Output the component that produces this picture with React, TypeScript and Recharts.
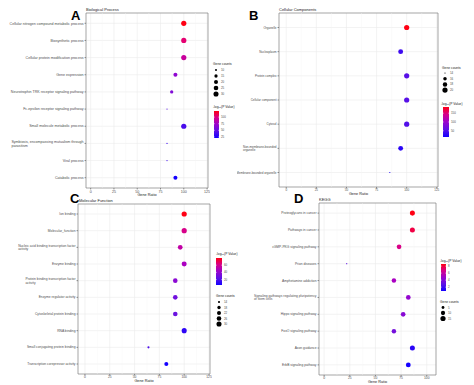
import React from 'react'
import {
  ScatterChart,
  Scatter,
  XAxis,
  YAxis,
  CartesianGrid,
  ReferenceLine,
  ReferenceArea,
} from 'recharts'

const FONT = '"Liberation Sans", Arial, sans-serif'
const TXT = '#4d4d4d'

// A - Biological Process
const bpTerms = [
  'Cellular nitrogen compound metabolic process',
  'Biosynthetic process',
  'Cellular protein modification process',
  'Gene expression',
  'Neurotrophin TRK receptor signaling pathway',
  'Fc-epsilon receptor signaling pathway',
  'Small molecule metabolic process',
  'Symbiosis, encompassing mutualism through\nparasitism',
  'Viral process',
  'Catabolic process',
]
const bpRatio = [100, 100, 100, 91, 87, 82, 100, 82, 82, 91]
const bpCounts = [31, 31, 31, 20, 15, 9, 31, 9, 9, 20]
const bpLogP = [123, 105, 92, 68, 62, 45, 40, 35, 35, 21]
const bpCountBreaks = [10, 15, 20, 25, 30]
const bpPBreaks = [100, 75, 50, 25]

// B - Cellular Components
const ccTerms = [
  'Organelle',
  'Nucleoplasm',
  'Protein complex',
  'Cellular component',
  'Cytosol',
  'Non-membrane-bounded\norganelle',
  'Membrane-bounded organelle',
]
const ccRatio = [100, 95, 100, 100, 100, 95, 86]
const ccCounts = [20, 19, 20, 20, 20, 19, 14]
const ccLogP = [185, 40, 55, 55, 52, 28, 20]
const ccCountBreaks = [14, 16, 18, 20]
const ccPBreaks = [150, 100, 50]

// C - Molecular Function
const mfTerms = [
  'Ion binding',
  'Molecular_function',
  'Nucleic acid binding transcription factor\nactivity',
  'Enzyme binding',
  'Protein binding transcription factor\nactivity',
  'Enzyme regulator activity',
  'Cytoskeletal protein binding',
  'RNA binding',
  'Small conjugating protein binding',
  'Transcription corepressor activity',
]
const mfRatio = [100, 100, 96, 100, 91, 91, 91, 100, 64, 82]
const mfCounts = [31, 31, 27, 29, 26, 26, 26, 30, 14, 22]
const mfLogP = [80, 62, 55, 48, 38, 30, 28, 12, 20, 5]
const mfCountBreaks = [14, 18, 22, 26, 30]
const mfPBreaks = [60, 40, 20]

// D - KEGG
const keggTerms = [
  'Proteoglycans in cancer',
  'Pathways in cancer',
  'cGMP-PKG signaling pathway',
  'Prion diseases',
  'Amphetamine addiction',
  'Signaling pathways regulating pluripotency\nof stem cells',
  'Hippo signaling pathway',
  'FoxO signaling pathway',
  'Axon guidance',
  'ErbB signaling pathway',
]
const keggRatio = [86, 86, 73, 22, 68, 82, 77, 68, 86, 82]
const keggCounts = [14, 14, 12, 3, 11, 12, 12, 11, 14, 13]
const keggLogP = [8.6, 7.9, 6.8, 3, 5.3, 4.6, 4.2, 3.6, 1.5, 0.9]
const keggCountBreaks = [5, 10, 15]
const keggPBreaks = [8, 6, 4, 2]

const STOPS: [number, number[]][] = [
  [0, [20, 0, 255]],
  [0.3, [105, 20, 225]],
  [0.55, [165, 0, 200]],
  [0.8, [225, 0, 125]],
  [1, [255, 0, 20]],
]

function colorAt(t: number) {
  const v = Math.max(0, Math.min(1, t))
  for (let i = 1; i < STOPS.length; i++) {
    const [t1, c1] = STOPS[i]
    const [t0, c0] = STOPS[i - 1]
    if (v <= t1) {
      const f = (v - t0) / (t1 - t0)
      const c = c0.map((a, k) => Math.round(a + (c1[k] - a) * f))
      return `rgb(${c[0]},${c[1]},${c[2]})`
    }
  }
  return 'rgb(255,0,20)'
}

const radius = (c: number, dom: [number, number]) => {
  const t = Math.max(0, Math.min(1, (c - dom[0]) / (dom[1] - dom[0])))
  return 0.6 + 2.0 * Math.sqrt(t)
}

let ctx: CanvasRenderingContext2D | null = null
function textWidth(s: string, fs: number) {
  if (!ctx) ctx = document.createElement('canvas').getContext('2d')
  if (!ctx) return s.length * fs * 0.5
  ctx.font = `${fs}px "Liberation Sans"`
  return ctx.measureText(s).width
}

type Box = { l: number; r: number; t: number; b: number }

type PanelProps = {
  originX: number
  plot: Box
  terms: string[]
  ratio: number[]
  counts: number[]
  logp: number[]
  xDomain: [number, number]
  xTicks: number[]
  pDomain: [number, number]
  cDomain: [number, number]
  fs: number
}

function Panel(p: PanelProps) {
  const n = p.terms.length
  const yW = p.plot.l - p.originX
  const top = p.plot.t - 2
  const xH = 7
  const width = p.plot.r + 2 - p.originX
  const height = p.plot.b - top + xH
  const data = p.terms.map((t, i) => ({
    x: p.ratio[i],
    y: i + 1,
    count: p.counts[i],
    logp: p.logp[i],
  }))
  const yTicks = p.terms.map((_, i) => i + 1)
  const minor = p.xTicks.slice(0, -1).map((v, i) => (v + p.xTicks[i + 1]) / 2)
  const yDom: [number, number] = [0.4, n + 0.6]

  const renderTick = (props: any) => {
    const { x, y, payload } = props
    const label = p.terms[payload.value - 1] ?? ''
    const lines = label.split('\n')
    if (lines.length === 1) {
      return (
        <text x={x} y={y} dy="0.35em" textAnchor="end" fontSize={p.fs} fill={TXT}>
          {label}
        </text>
      )
    }
    const w = textWidth(lines[0], p.fs)
    const lh = p.fs * 1.15
    return (
      <text fontSize={p.fs} fill={TXT}>
        {lines.map((ln, k) => (
          <tspan key={k} x={x - w} y={y + (k - (lines.length - 1) / 2) * lh} dy="0.35em" textAnchor="start">
            {ln}
          </tspan>
        ))}
      </text>
    )
  }

  const renderDot = (props: any) => {
    const { cx, cy, payload } = props
    if (cx == null || cy == null) return <g />
    const t = (payload.logp - p.pDomain[0]) / (p.pDomain[1] - p.pDomain[0])
    return <circle cx={cx} cy={cy} r={radius(payload.count, p.cDomain)} fill={colorAt(t)} />
  }

  return (
    <div style={{ position: 'absolute', left: p.originX, top }}>
      <ScatterChart width={width} height={height} margin={{ top: 2, right: 2, bottom: 0, left: 0 }}>
        <CartesianGrid stroke="#ebebeb" strokeWidth={0.6} />
        {minor.map((m) => (
          <ReferenceLine key={m} x={m} stroke="#f4f4f4" strokeWidth={0.4} />
        ))}
        <XAxis
          type="number"
          dataKey="x"
          domain={p.xDomain}
          ticks={p.xTicks}
          interval={0}
          allowDataOverflow
          height={xH}
          tickSize={1.5}
          tickMargin={0.5}
          axisLine={false}
          tickLine={{ stroke: '#333', strokeWidth: 0.5 }}
          tick={{ fontSize: p.fs, fill: TXT }}
        />
        <YAxis
          type="number"
          dataKey="y"
          domain={yDom}
          ticks={yTicks}
          interval={0}
          reversed
          allowDataOverflow
          width={yW}
          tickSize={1.5}
          tickMargin={1}
          axisLine={false}
          tickLine={{ stroke: '#333', strokeWidth: 0.5 }}
          tick={renderTick}
        />
        <ReferenceArea
          x1={p.xDomain[0]}
          x2={p.xDomain[1]}
          y1={yDom[0]}
          y2={yDom[1]}
          fill="none"
          fillOpacity={0}
          stroke="#777"
          strokeWidth={0.6}
          ifOverflow="visible"
        />
        <Scatter data={data} isAnimationActive={false} shape={renderDot} />
      </ScatterChart>
    </div>
  )
}

type LegendProps = {
  id: string
  sizeTitle: [number, number]
  dotX: number
  dotY0: number
  dotStep: number
  labelX: number
  countBreaks: number[]
  cDomain: [number, number]
  colorTitle: [number, number]
  bar: { x: number; y: number; w: number; h: number }
  barLabelX: number
  pBreaks: number[]
  pDomain: [number, number]
}

function Legends(l: LegendProps) {
  const fs = 3.3
  const stops = [0, 0.25, 0.5, 0.75, 1]
  return (
    <g>
      <text x={l.sizeTitle[0]} y={l.sizeTitle[1]} fontSize={fs} fill="#222">
        Gene counts
      </text>
      {l.countBreaks.map((c, k) => (
        <g key={c}>
          <circle cx={l.dotX} cy={l.dotY0 + k * l.dotStep} r={radius(c, l.cDomain)} fill="#000" />
          <text x={l.labelX} y={l.dotY0 + k * l.dotStep} dy="0.35em" fontSize={fs - 0.4} fill={TXT}>
            {c}
          </text>
        </g>
      ))}
      <defs>
        <linearGradient id={l.id} x1="0" y1="1" x2="0" y2="0">
          {stops.map((s) => (
            <stop key={s} offset={s} stopColor={colorAt(s)} />
          ))}
        </linearGradient>
      </defs>
      <text x={l.colorTitle[0]} y={l.colorTitle[1]} fontSize={fs} fill="#222">
        -log
        <tspan fontSize={fs * 0.7} dy={fs * 0.3}>10</tspan>
        <tspan dy={-fs * 0.3}>(P Value)</tspan>
      </text>
      <rect x={l.bar.x} y={l.bar.y} width={l.bar.w} height={l.bar.h} fill={`url(#${l.id})`} />
      {l.pBreaks.map((v) => {
        const yy = l.bar.y + l.bar.h * (1 - (v - l.pDomain[0]) / (l.pDomain[1] - l.pDomain[0]))
        return (
          <g key={v}>
            <line x1={l.bar.x} x2={l.bar.x + 1} y1={yy} y2={yy} stroke="#fff" strokeWidth={0.4} />
            <line x1={l.bar.x + l.bar.w - 1} x2={l.bar.x + l.bar.w} y1={yy} y2={yy} stroke="#fff" strokeWidth={0.4} />
            <text x={l.barLabelX} y={yy} dy="0.35em" fontSize={fs - 0.4} fill={TXT}>
              {v}
            </text>
          </g>
        )
      })}
    </g>
  )
}

const bpPlot = { l: 86, r: 208, t: 13, b: 188 }
const ccPlot = { l: 279, r: 438, t: 13, b: 187 }
const mfPlot = { l: 78, r: 210, t: 204, b: 374 }
const keggPlot = { l: 319, r: 436, t: 203, b: 375 }

const bpX: [number, number] = [-5, 126]
const ccX: [number, number] = [-6, 126]
const mfX: [number, number] = [-7, 126]
const keggX: [number, number] = [-5, 109]
const ticks125 = [0, 25, 50, 75, 100, 125]
const ticks100 = [0, 25, 50, 75, 100]

const bpP: [number, number] = [21, 123]
const ccP: [number, number] = [15, 185]
const mfP: [number, number] = [5, 80]
const keggP: [number, number] = [0.9, 8.6]
const bpC: [number, number] = [9, 31]
const ccC: [number, number] = [14, 20]
const mfC: [number, number] = [13, 31]
const keggC: [number, number] = [3, 15]

const midX = (b: Box) => (b.l + b.r) / 2

export default function App() {
  return (
    <div
      style={{
        position: 'absolute',
        left: 0,
        top: 0,
        width: 474,
        height: 385,
        background: '#fff',
        fontFamily: FONT,
        overflow: 'hidden',
      }}
    >
      <Panel originX={0} plot={bpPlot} terms={bpTerms} ratio={bpRatio} counts={bpCounts} logp={bpLogP}
        xDomain={bpX} xTicks={ticks125} pDomain={bpP} cDomain={bpC} fs={3.6} />
      <Panel originX={237} plot={ccPlot} terms={ccTerms} ratio={ccRatio} counts={ccCounts} logp={ccLogP}
        xDomain={ccX} xTicks={ticks125} pDomain={ccP} cDomain={ccC} fs={3.0} />
      <Panel originX={0} plot={mfPlot} terms={mfTerms} ratio={mfRatio} counts={mfCounts} logp={mfLogP}
        xDomain={mfX} xTicks={ticks125} pDomain={mfP} cDomain={mfC} fs={3.3} />
      <Panel originX={237} plot={keggPlot} terms={keggTerms} ratio={keggRatio} counts={keggCounts} logp={keggLogP}
        xDomain={keggX} xTicks={ticks100} pDomain={keggP} cDomain={keggC} fs={3.3} />

      <svg width={474} height={385} style={{ position: 'absolute', left: 0, top: 0, pointerEvents: 'none' }}>
        <g fontWeight="bold" fill="#000" fontSize={13}>
          <text x={71} y={19.5}>A</text>
          <text x={249} y={19.5}>B</text>
          <text x={70} y={202.5}>C</text>
          <text x={294} y={202.5}>D</text>
        </g>
        <g fontSize={4} fill="#222">
          <text x={86} y={11}>Biological Process</text>
          <text x={279} y={11}>Cellular Components</text>
          <text x={79} y={201.5}>Molecular Function</text>
          <text x={319} y={201}>KEGG</text>
        </g>
        <g fontSize={3.8} fill="#222" textAnchor="middle">
          <text x={midX(bpPlot)} y={bpPlot.b + 8}>Gene Ratio</text>
          <text x={midX(ccPlot)} y={ccPlot.b + 8}>Gene Ratio</text>
          <text x={midX(mfPlot)} y={mfPlot.b + 8}>Gene Ratio</text>
          <text x={midX(keggPlot)} y={keggPlot.b + 8}>Gene Ratio</text>
        </g>
        <Legends id="gA" sizeTitle={[213, 64.5]} dotX={216} dotY0={70} dotStep={6} labelX={221}
          countBreaks={bpCountBreaks} cDomain={bpC} colorTitle={[213, 107.5]}
          bar={{ x: 214, y: 111, w: 5, h: 27 }} barLabelX={221} pBreaks={bpPBreaks} pDomain={bpP} />
        <Legends id="gB" sizeTitle={[442, 68.5]} dotX={445} dotY0={73} dotStep={5.7} labelX={450}
          countBreaks={ccCountBreaks} cDomain={ccC} colorTitle={[441, 104.5]}
          bar={{ x: 443, y: 107, w: 6, h: 30 }} barLabelX={451} pBreaks={ccPBreaks} pDomain={ccP} />
        <Legends id="gC" sizeTitle={[216, 297]} dotX={219} dotY0={302} dotStep={5.5} labelX={224}
          countBreaks={mfCountBreaks} cDomain={mfC} colorTitle={[216, 254.5]}
          bar={{ x: 216, y: 258, w: 6, h: 27 }} barLabelX={224} pBreaks={mfPBreaks} pDomain={mfP} />
        <Legends id="gD" sizeTitle={[440, 303]} dotX={443} dotY0={307.5} dotStep={5.5} labelX={448}
          countBreaks={keggCountBreaks} cDomain={keggC} colorTitle={[440, 261.5]}
          bar={{ x: 441, y: 264, w: 5, h: 27 }} barLabelX={448} pBreaks={keggPBreaks} pDomain={keggP} />
      </svg>
    </div>
  )
}
